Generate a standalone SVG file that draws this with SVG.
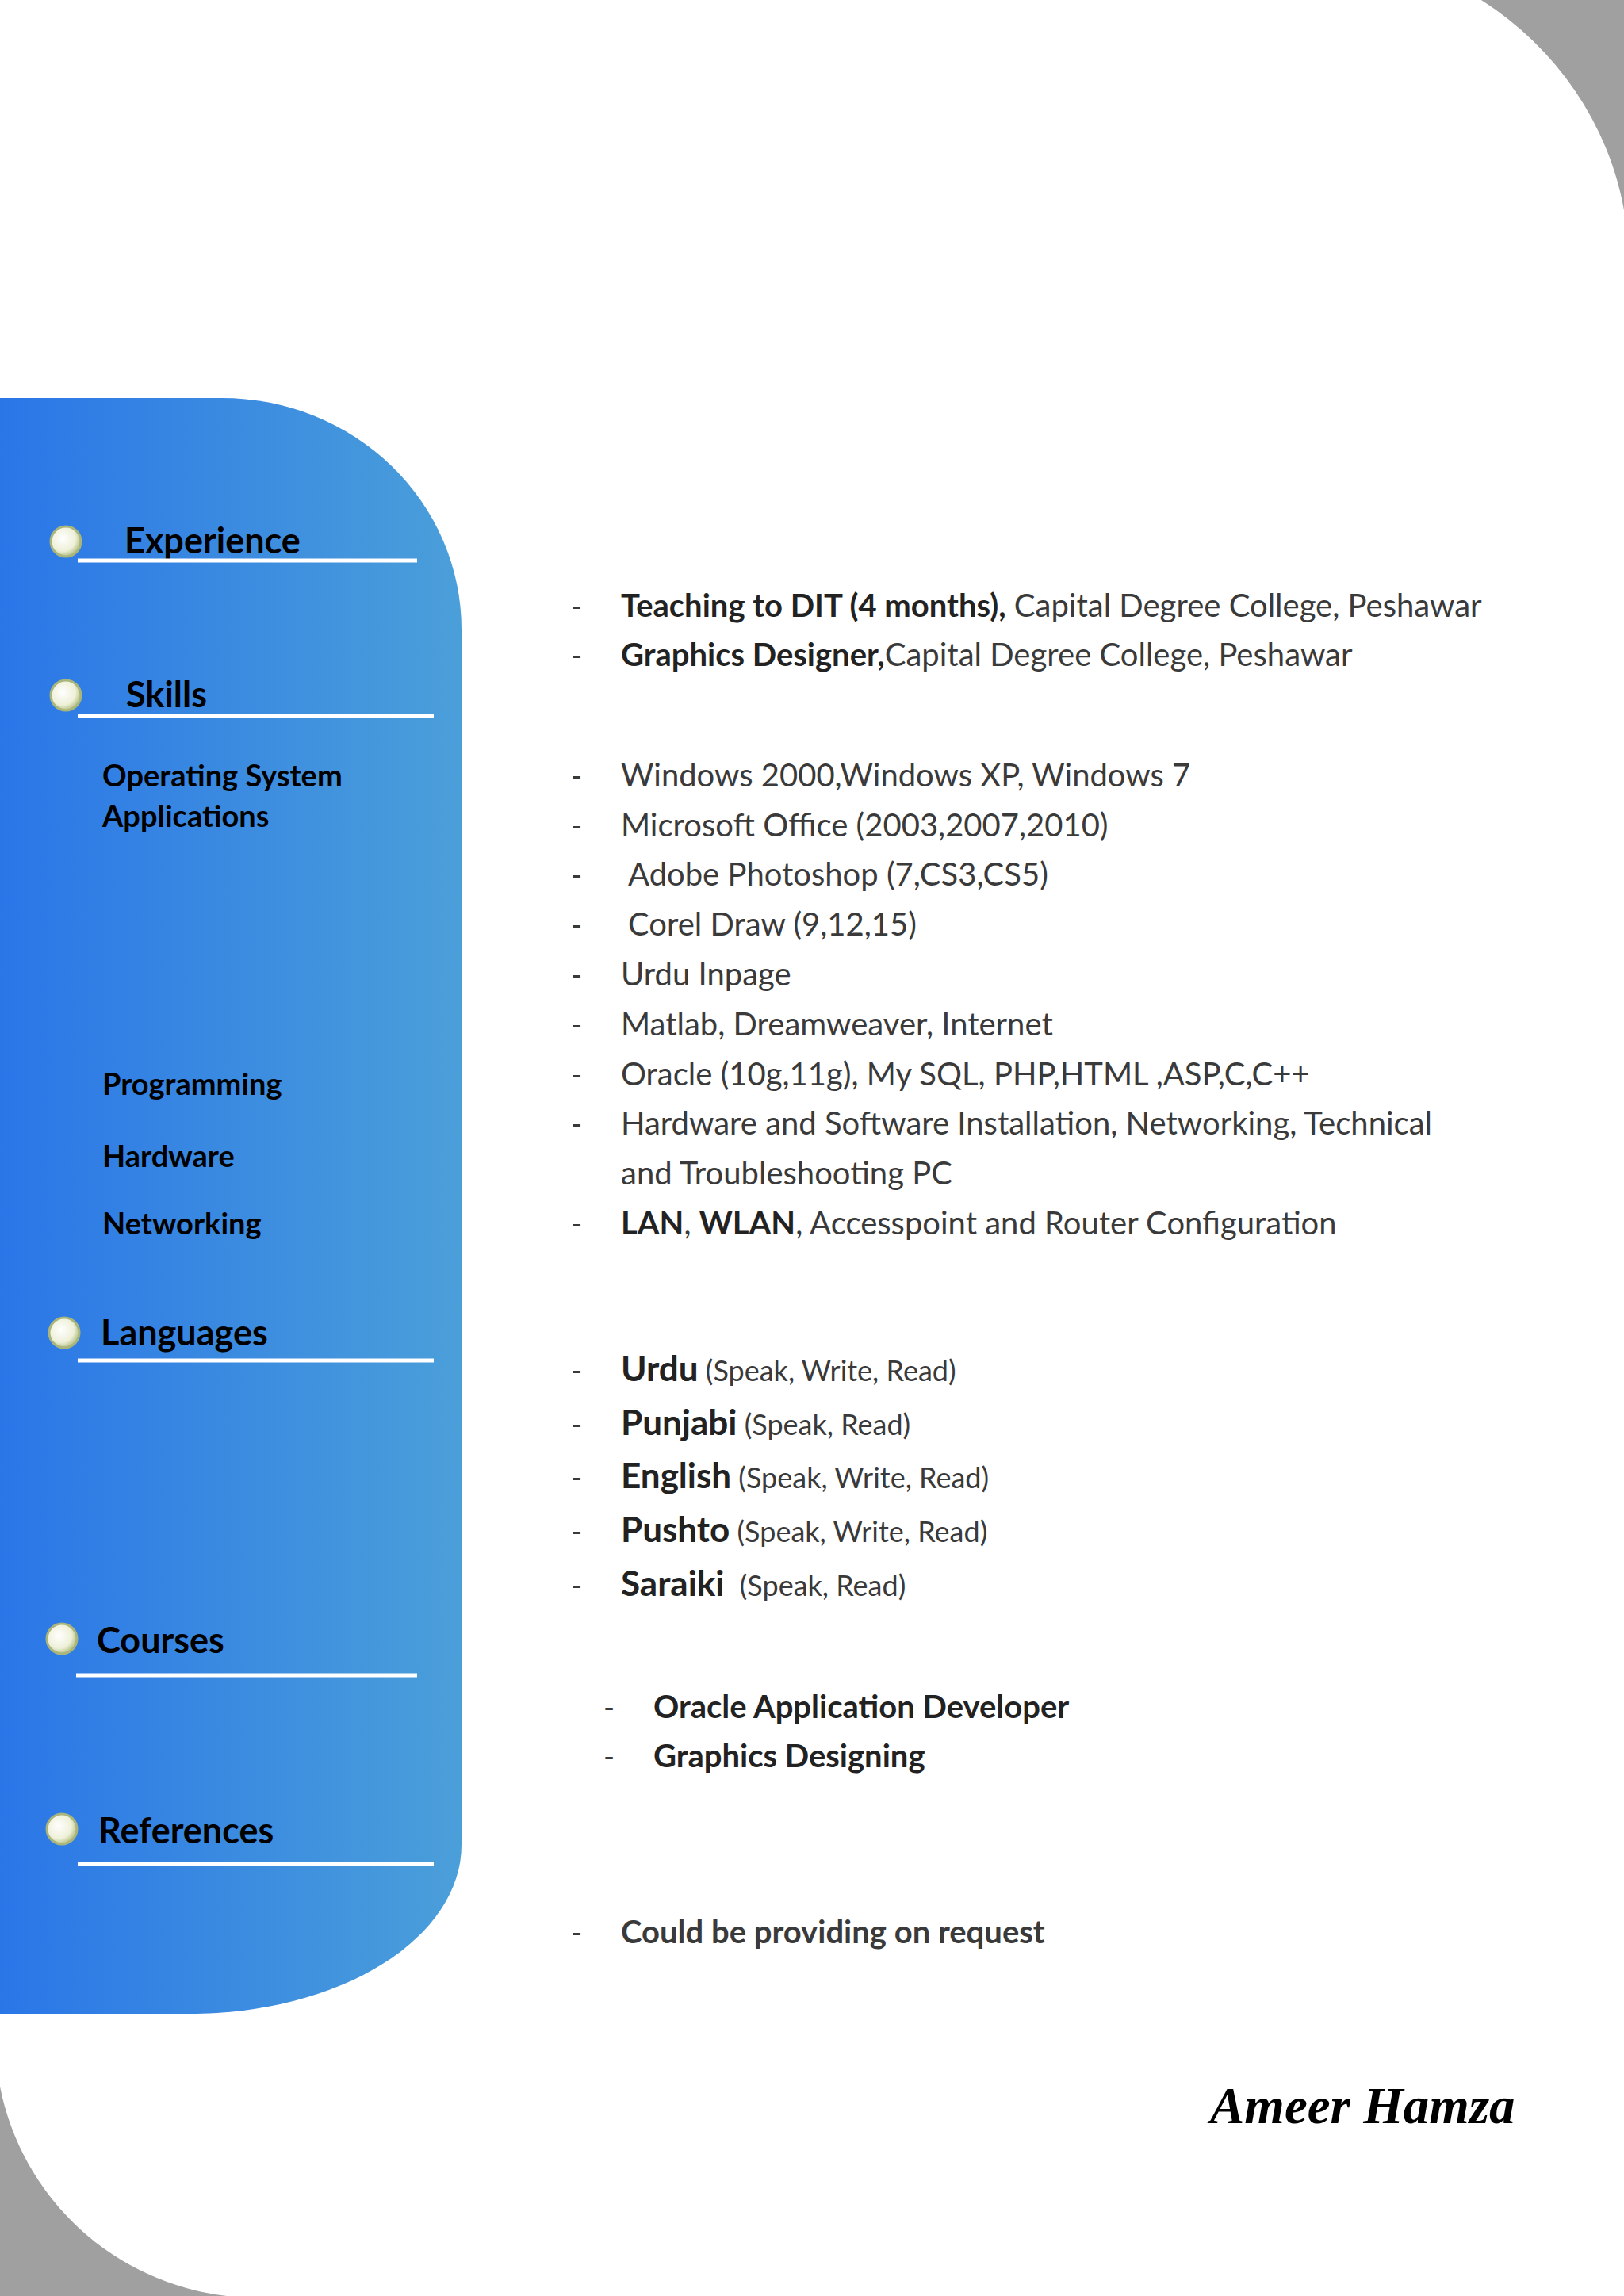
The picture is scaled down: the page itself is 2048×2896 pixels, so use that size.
<svg xmlns="http://www.w3.org/2000/svg" width="2048" height="2896" viewBox="0 0 2048 2896">
<style>
text{font-family:Lato,"Open Sans","Liberation Sans",sans-serif}
.h{font-size:45px;font-weight:bold;fill:#000}
.s{font-size:38px;font-weight:bold;fill:#000}
.r{font-size:40px;fill:#3a3a3a}
.b{font-weight:bold;fill:#222}
.d{font-size:38px;fill:#3a3a3a}
.lg{font-size:44px;font-weight:bold;fill:#222}
.sm{font-size:36px;fill:#3a3a3a}
.ln{stroke:#fff;stroke-width:5}
</style>
<defs>
<linearGradient id="g" x1="0" x2="1" y1="0" y2="0"><stop offset="0" stop-color="#2a76e8"/><stop offset="1" stop-color="#4b9fd9"/></linearGradient>
<radialGradient id="bul" cx="0.4" cy="0.4" r="0.6"><stop offset="0" stop-color="#ffffff"/><stop offset="0.7" stop-color="#eef0d8"/><stop offset="1" stop-color="#b9c48a"/></radialGradient>
</defs>
<rect width="2048" height="2896" fill="#fff"/>
<path d="M1868 0 A 420 400 0 0 1 2048 265 L2048 0 Z" fill="#a0a0a0"/>
<path d="M0 2632 A 330 330 0 0 0 286 2896 L0 2896 Z" fill="#a0a0a0"/>
<path d="M0 502 L280 502 A 302 292 0 0 1 582 794 L582 2327 A 342 213 0 0 1 240 2540 L0 2540 Z" fill="url(#g)"/>
<g id="sidebar">
<g id="experience"><circle cx="83" cy="683" r="19" fill="url(#bul)" stroke="#a9b57a" stroke-width="3"/><text class="h" x="157" y="698">Experience</text><line class="ln" x1="98" y1="707" x2="526" y2="707"/></g>
<g id="skills"><circle cx="83" cy="877" r="19" fill="url(#bul)" stroke="#a9b57a" stroke-width="3"/><text class="h" x="159" y="892">Skills</text><line class="ln" x1="98" y1="903" x2="547" y2="903"/>
<text class="s" x="129" y="992">Operating System</text><text class="s" x="129" y="1043">Applications</text>
<text class="s" x="129" y="1381">Programming</text><text class="s" x="129" y="1472">Hardware</text><text class="s" x="129" y="1557">Networking</text></g>
<g id="languages"><circle cx="81" cy="1681" r="19" fill="url(#bul)" stroke="#a9b57a" stroke-width="3"/><text class="h" x="127" y="1697">Languages</text><line class="ln" x1="98" y1="1716" x2="547" y2="1716"/></g>
<g id="courses"><circle cx="78" cy="2067" r="19" fill="url(#bul)" stroke="#a9b57a" stroke-width="3"/><text class="h" x="122" y="2085">Courses</text><line class="ln" x1="96" y1="2113" x2="526" y2="2113"/></g>
<g id="references"><circle cx="78" cy="2307" r="19" fill="url(#bul)" stroke="#a9b57a" stroke-width="3"/><text class="h" x="124" y="2325">References</text><line class="ln" x1="98" y1="2351" x2="547" y2="2351"/></g>
</g>
<g id="content">
<g class="d"><text class="d" x="720" y="778">-</text><text class="d" x="720" y="840">-</text>
<text class="d" x="720" y="992">-</text><text class="d" x="720" y="1055">-</text><text class="d" x="720" y="1117">-</text><text class="d" x="720" y="1180">-</text><text class="d" x="720" y="1243">-</text><text class="d" x="720" y="1306">-</text><text class="d" x="720" y="1369">-</text><text class="d" x="720" y="1431">-</text><text class="d" x="720" y="1557">-</text>
<text class="d" x="720" y="1742">-</text><text class="d" x="720" y="1810">-</text><text class="d" x="720" y="1877">-</text><text class="d" x="720" y="1945">-</text><text class="d" x="720" y="2013">-</text>
<text class="d" x="761" y="2167">-</text><text class="d" x="761" y="2229">-</text><text class="d" x="720" y="2451">-</text></g>
<text class="r" x="783" y="778"><tspan class="b">Teaching to DIT (4 months),</tspan> Capital Degree College, Peshawar</text>
<text class="r" x="783" y="840"><tspan class="b">Graphics Designer,</tspan>Capital Degree College, Peshawar</text>
<text class="r" x="783" y="992">Windows 2000,Windows XP, Windows 7</text>
<text class="r" x="783" y="1055">Microsoft Office (2003,2007,2010)</text>
<text class="r" x="792" y="1117">Adobe Photoshop (7,CS3,CS5)</text>
<text class="r" x="792" y="1180">Corel Draw (9,12,15)</text>
<text class="r" x="783" y="1243">Urdu Inpage</text>
<text class="r" x="783" y="1306">Matlab, Dreamweaver, Internet</text>
<text class="r" x="783" y="1369">Oracle (10g,11g), My SQL, PHP,HTML ,ASP,C,C++</text>
<text class="r" x="783" y="1431">Hardware and Software Installation, Networking, Technical</text>
<text class="r" x="783" y="1494">and Troubleshooting PC</text>
<text class="r" x="783" y="1557"><tspan class="b">LAN</tspan>, <tspan class="b">WLAN</tspan>, Accesspoint and Router Configuration</text>
<text x="783" y="1742"><tspan class="lg">Urdu</tspan><tspan class="sm"> (Speak, Write, Read)</tspan></text>
<text x="783" y="1810"><tspan class="lg">Punjabi</tspan><tspan class="sm"> (Speak, Read)</tspan></text>
<text x="783" y="1877"><tspan class="lg">English</tspan><tspan class="sm"> (Speak, Write, Read)</tspan></text>
<text x="783" y="1945"><tspan class="lg">Pushto</tspan><tspan class="sm"> (Speak, Write, Read)</tspan></text>
<text x="783" y="2013"><tspan class="lg">Saraiki</tspan><tspan class="sm" dx="10"> (Speak, Read)</tspan></text>
<text class="r b" x="824" y="2167">Oracle Application Developer</text>
<text class="r b" x="824" y="2229">Graphics Designing</text>
<text class="r" x="783" y="2451" font-weight="bold" fill="#444">Could be providing on request</text>
<text x="1526" y="2678" style="font-family:'Liberation Serif',serif;font-size:65px;font-weight:bold;font-style:italic" fill="#000">Ameer Hamza</text>
</g>
</svg>
